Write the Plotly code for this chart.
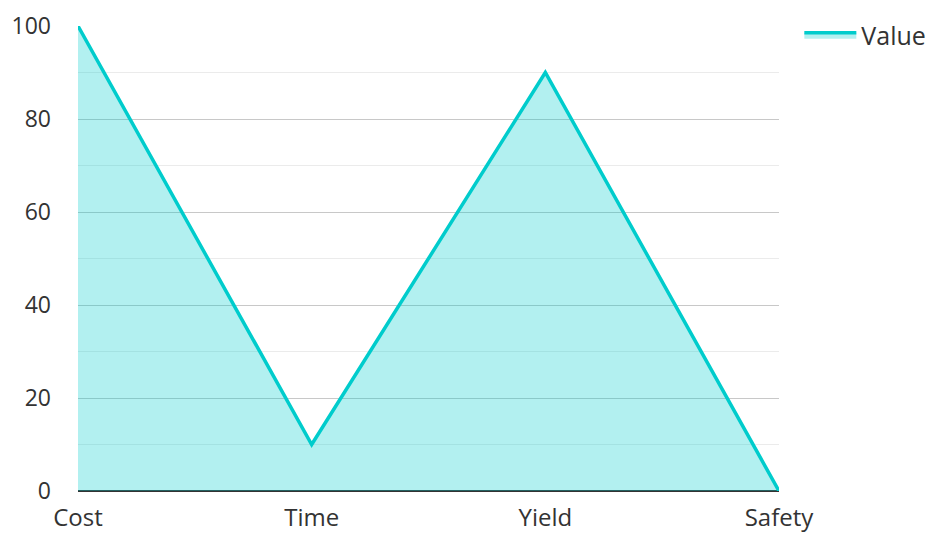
import plotly.graph_objects as go

categories = ["Cost", "Time", "Yield", "Safety"]
values = [100, 10, 90, 0]
y_ticks = [0, 20, 40, 60, 80, 100]
series_name = "Value"

fig = go.Figure()
fig.add_trace(go.Scatter(
    x=categories, y=values, name=series_name, mode="lines",
    line=dict(color="#00CCCC", width=3.5),
    fill="tozeroy", fillcolor="rgba(0,204,204,0.3)",
))

fig.update_layout(
    width=928, height=533,
    margin=dict(l=78, r=149, t=26, b=42, autoexpand=False),
    paper_bgcolor="white", plot_bgcolor="white",
    font=dict(family="Open Sans", size=23, color="#333"),
    showlegend=True,
    legend=dict(x=1.029, y=1.03, xanchor="left", yanchor="top",
                itemwidth=52,
                font=dict(size=25, color="#333")),
)
fig.update_xaxes(
    type="category", range=[0, 3], showgrid=False, showline=False,
    zeroline=False, ticks="", ticklabelstandoff=10, automargin=False,
    tickfont=dict(size=24),
)
fig.update_yaxes(
    range=[0, 100], tickvals=y_ticks, showgrid=True, gridcolor="#c8c8c8",
    gridwidth=1, zeroline=True, zerolinecolor="#333333", zerolinewidth=2,
    ticks="", ticklabelstandoff=26, automargin=False,
    minor=dict(dtick=10, showgrid=True, gridcolor="#ebebeb", gridwidth=1),
)
fig.write_html("out.html")
